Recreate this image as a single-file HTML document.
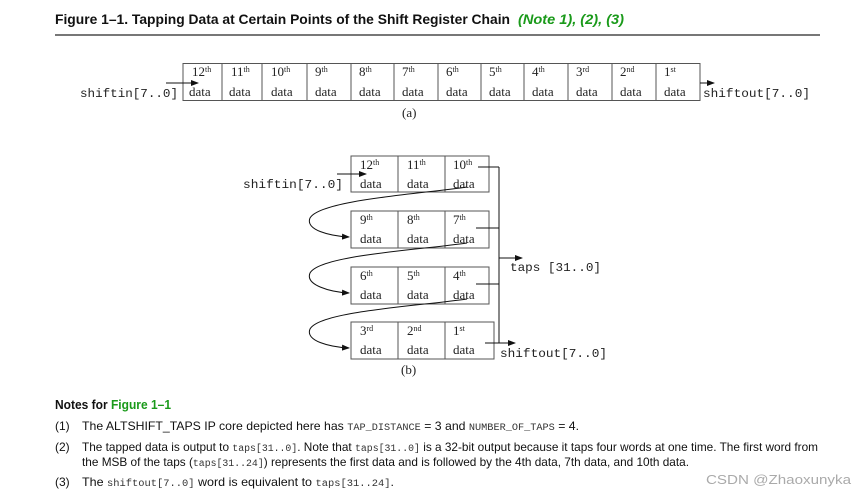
<!DOCTYPE html>
<html><head><meta charset="utf-8"><style>
html,body{margin:0;padding:0;background:#fff;}
svg{display:block;}
.s{font-family:"Liberation Serif",serif;font-size:13px;fill:#222;}
.sup{font-family:"Liberation Serif",serif;font-size:8px;fill:#222;}
.m{font-family:"Liberation Mono",monospace;font-size:12px;fill:#222;}
.n{font-family:"Liberation Sans",sans-serif;font-size:12px;fill:#111;}
.c{font-family:"Liberation Mono",monospace;font-size:10px;fill:#333;}
</style></head><body>
<svg width="865" height="495" viewBox="0 0 865 495" xmlns="http://www.w3.org/2000/svg">
<defs><marker id="ar" markerWidth="8" markerHeight="8" refX="7" refY="3" orient="auto" markerUnits="userSpaceOnUse"><path d="M0,0 L8,3 L0,6 z" fill="#111"/></marker></defs>
<text x="55" y="24" font-family="Liberation Sans,sans-serif" font-weight="bold" font-size="14" fill="#111" textLength="455" lengthAdjust="spacingAndGlyphs">Figure 1–1.  Tapping Data at Certain Points of the Shift Register Chain</text>
<text x="518" y="24" font-family="Liberation Sans,sans-serif" font-weight="bold" font-style="italic" font-size="14" fill="#1a9a1a" textLength="106" lengthAdjust="spacingAndGlyphs">(Note 1), (2), (3)</text>
<rect x="55" y="34" width="765" height="2" fill="#777"/>

<!-- (a) -->
<g stroke="#555" stroke-width="1" fill="none">
<rect x="183" y="63.5" width="517" height="37"/>
<line x1="222" y1="63.5" x2="222" y2="100.5"/><line x1="262" y1="63.5" x2="262" y2="100.5"/>
<line x1="307" y1="63.5" x2="307" y2="100.5"/><line x1="351" y1="63.5" x2="351" y2="100.5"/>
<line x1="394" y1="63.5" x2="394" y2="100.5"/><line x1="438" y1="63.5" x2="438" y2="100.5"/>
<line x1="481" y1="63.5" x2="481" y2="100.5"/><line x1="524" y1="63.5" x2="524" y2="100.5"/>
<line x1="568" y1="63.5" x2="568" y2="100.5"/><line x1="612" y1="63.5" x2="612" y2="100.5"/>
<line x1="656" y1="63.5" x2="656" y2="100.5"/>
</g>
<g class="s">
<text x="192" y="76">12<tspan class="sup" dy="-4">th</tspan></text>
<text x="231" y="76">11<tspan class="sup" dy="-4">th</tspan></text>
<text x="271" y="76">10<tspan class="sup" dy="-4">th</tspan></text>
<text x="315" y="76">9<tspan class="sup" dy="-4">th</tspan></text>
<text x="359" y="76">8<tspan class="sup" dy="-4">th</tspan></text>
<text x="402" y="76">7<tspan class="sup" dy="-4">th</tspan></text>
<text x="446" y="76">6<tspan class="sup" dy="-4">th</tspan></text>
<text x="489" y="76">5<tspan class="sup" dy="-4">th</tspan></text>
<text x="532" y="76">4<tspan class="sup" dy="-4">th</tspan></text>
<text x="576" y="76">3<tspan class="sup" dy="-4">rd</tspan></text>
<text x="620" y="76">2<tspan class="sup" dy="-4">nd</tspan></text>
<text x="664" y="76">1<tspan class="sup" dy="-4">st</tspan></text>
<text x="189" y="96">data</text><text x="229" y="96">data</text><text x="271" y="96">data</text>
<text x="315" y="96">data</text><text x="359" y="96">data</text><text x="402" y="96">data</text>
<text x="446" y="96">data</text><text x="489" y="96">data</text><text x="532" y="96">data</text>
<text x="576" y="96">data</text><text x="620" y="96">data</text><text x="664" y="96">data</text>
<text x="402" y="117">(a)</text>
</g>
<line x1="166" y1="83" x2="198" y2="83" stroke="#111" marker-end="url(#ar)"/>
<line x1="700" y1="83" x2="714" y2="83" stroke="#111" marker-end="url(#ar)"/>
<text class="m" x="80" y="97" textLength="98" lengthAdjust="spacingAndGlyphs">shiftin[7..0]</text>
<text class="m" x="703" y="97" textLength="107" lengthAdjust="spacingAndGlyphs">shiftout[7..0]</text>

<!-- (b) -->
<g stroke="#555" stroke-width="1" fill="none">
<rect x="351" y="156" width="138" height="36"/><line x1="398" y1="156" x2="398" y2="192"/><line x1="445" y1="156" x2="445" y2="192"/>
<rect x="351" y="211" width="138" height="37"/><line x1="398" y1="211" x2="398" y2="248"/><line x1="445" y1="211" x2="445" y2="248"/>
<rect x="351" y="267" width="138" height="37"/><line x1="398" y1="267" x2="398" y2="304"/><line x1="445" y1="267" x2="445" y2="304"/>
<rect x="351" y="322" width="143" height="37"/><line x1="398" y1="322" x2="398" y2="359"/><line x1="445" y1="322" x2="445" y2="359"/>
</g>
<g class="s">
<text x="360" y="169">12<tspan class="sup" dy="-4">th</tspan></text>
<text x="407" y="169">11<tspan class="sup" dy="-4">th</tspan></text>
<text x="453" y="169">10<tspan class="sup" dy="-4">th</tspan></text>
<text x="360" y="188">data</text><text x="407" y="188">data</text><text x="453" y="188">data</text>
<text x="360" y="224">9<tspan class="sup" dy="-4">th</tspan></text>
<text x="407" y="224">8<tspan class="sup" dy="-4">th</tspan></text>
<text x="453" y="224">7<tspan class="sup" dy="-4">th</tspan></text>
<text x="360" y="243">data</text><text x="407" y="243">data</text><text x="453" y="243">data</text>
<text x="360" y="280">6<tspan class="sup" dy="-4">th</tspan></text>
<text x="407" y="280">5<tspan class="sup" dy="-4">th</tspan></text>
<text x="453" y="280">4<tspan class="sup" dy="-4">th</tspan></text>
<text x="360" y="299">data</text><text x="407" y="299">data</text><text x="453" y="299">data</text>
<text x="360" y="335">3<tspan class="sup" dy="-4">rd</tspan></text>
<text x="407" y="335">2<tspan class="sup" dy="-4">nd</tspan></text>
<text x="453" y="335">1<tspan class="sup" dy="-4">st</tspan></text>
<text x="360" y="354">data</text><text x="407" y="354">data</text><text x="453" y="354">data</text>
<text x="401" y="374">(b)</text>
</g>
<text class="m" x="243" y="188" textLength="100" lengthAdjust="spacingAndGlyphs">shiftin[7..0]</text>
<text class="m" x="510" y="271" textLength="91" lengthAdjust="spacingAndGlyphs">taps [31..0]</text>
<text class="m" x="500" y="357" textLength="107" lengthAdjust="spacingAndGlyphs">shiftout[7..0]</text>
<g stroke="#111" stroke-width="1" fill="none">
<line x1="337" y1="174" x2="366" y2="174" marker-end="url(#ar)"/>
<line x1="478" y1="167" x2="499" y2="167"/>
<line x1="499" y1="167" x2="499" y2="343"/>
<line x1="476" y1="228" x2="499" y2="228"/>
<line x1="476" y1="284" x2="499" y2="284"/>
<line x1="499" y1="258" x2="522" y2="258" marker-end="url(#ar)"/>
<line x1="485" y1="343" x2="515" y2="343" marker-end="url(#ar)"/>
<path d="M467,187 C420,194 320,200 310,218 C305,230 330,236 349,237" marker-end="url(#ar)"/>
<path d="M467,243 C420,250 320,255 310,273 C305,285 330,292 349,293" marker-end="url(#ar)"/>
<path d="M467,299 C420,306 320,311 310,329 C305,341 330,347 349,348" marker-end="url(#ar)"/>
</g>

<!-- notes -->
<text x="55" y="409" font-family="Liberation Sans,sans-serif" font-weight="bold" font-size="12.5" fill="#111" textLength="116" lengthAdjust="spacingAndGlyphs">Notes for <tspan fill="#1a9a1a">Figure 1–1</tspan></text>
<text class="n" x="55" y="430">(1)</text>
<text class="n" x="82" y="430" textLength="497" lengthAdjust="spacingAndGlyphs">The ALTSHIFT_TAPS IP core depicted here has <tspan class="c">TAP_DISTANCE</tspan> = 3 and <tspan class="c">NUMBER_OF_TAPS</tspan> = 4.</text>
<text class="n" x="55" y="451">(2)</text>
<text class="n" x="82" y="451" textLength="736" lengthAdjust="spacingAndGlyphs">The tapped data is output to <tspan class="c">taps[31..0]</tspan>. Note that <tspan class="c">taps[31..0]</tspan> is a 32-bit output because it taps four words at one time. The first word from</text>
<text class="n" x="82" y="466" textLength="607" lengthAdjust="spacingAndGlyphs">the MSB of the taps (<tspan class="c">taps[31..24]</tspan>) represents the first data and is followed by the 4th data, 7th data, and 10th data.</text>
<text class="n" x="55" y="486">(3)</text>
<text class="n" x="82" y="486" textLength="312" lengthAdjust="spacingAndGlyphs">The <tspan class="c">shiftout[7..0]</tspan> word is equivalent to <tspan class="c">taps[31..24]</tspan>.</text>
<text x="706" y="484" font-family="Liberation Sans,sans-serif" font-size="13" fill="#aaa" textLength="145" lengthAdjust="spacingAndGlyphs">CSDN @Zhaoxunyka</text>
</svg>
</body></html>
